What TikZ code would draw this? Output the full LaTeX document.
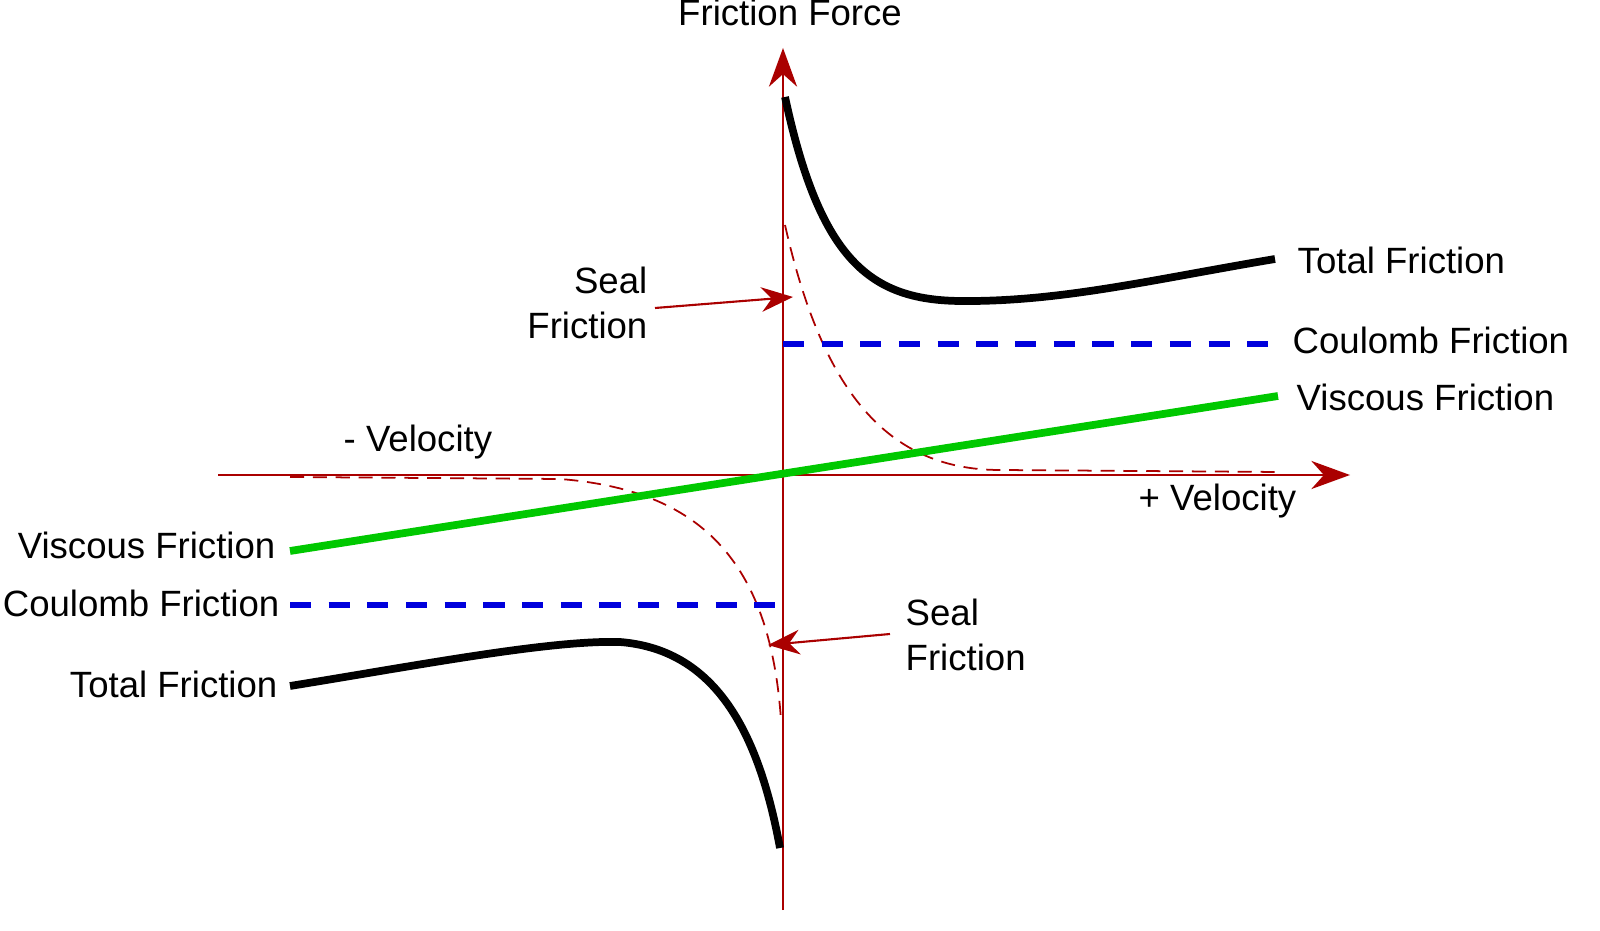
\documentclass[tikz,border=0pt]{standalone}
\usepackage{fontspec}
\setmainfont{Liberation Sans}
\usetikzlibrary{arrows.meta}
\definecolor{axred}{RGB}{170,0,0}
\definecolor{cblue}{RGB}{0,0,220}
\definecolor{vgreen}{RGB}{0,200,0}
\tikzset{
 axis/.style={axred,line width=0.6pt,-{Stealth[length=11pt,width=8pt]}},
 total/.style={black,line width=2.2pt},
 coul/.style={cblue,line width=1.8pt,dash pattern=on 6pt off 5pt},
 visc/.style={vgreen,line width=2.2pt},
 seal/.style={axred,line width=0.5pt,dash pattern=on 4pt off 2.5pt},
 lab/.style={font=\fontsize{10.4pt}{13pt}\selectfont,inner sep=0pt},
 pt/.style={axred,line width=0.6pt,-{Stealth[length=9pt,width=7pt]}}
}
\begin{document}
\begin{tikzpicture}[x=0.01cm,y=-0.01cm]
\coordinate (vb) at (783,910); \coordinate (vt) at (783,48);
\coordinate (hl) at (218,475); \coordinate (hr) at (1350,475);
\draw[axis] (vb) -- (vt);
\draw[axis] (hl) -- (hr);
\draw[seal] (785,225) .. controls (820,380) and (880,470) .. (1000,470) -- (1280,472);
\draw[seal] (290,477) -- (560,479) .. controls (700,490) and (770,560) .. (781,720);
\draw[coul] (783,344) -- (1275,344);
\draw[coul] (290,605) -- (783,605);
\draw[visc] (290,551) -- (1278,396);
\draw[total] (785,97) .. controls (820,260) and (870,300) .. (960,301) .. controls (1060,302) and (1150,280) .. (1275,259);
\draw[total] (290,686) .. controls (420,665) and (550,640) .. (620,642) .. controls (720,650) and (760,740) .. (780,848);
\node[lab,anchor=base] (ff) at (790,26) {Friction Force};
\node[lab,anchor=east,align=right] (s1) at (648,303) {Seal\\Friction};
\node[lab,anchor=west,align=left] (s2) at (905,635) {Seal\\Friction};
\coordinate (s1t) at (793,297); \coordinate (s2t) at (768,645);
\draw[pt] (655,308) -- (s1t);
\draw[pt] (890,634) -- (s2t);
\node[lab,anchor=west] (t1) at (1297,260) {Total Friction};
\node[lab,anchor=west] (c1) at (1292,340) {Coulomb Friction};
\node[lab,anchor=west] (v1) at (1296,397) {Viscous Friction};
\node[lab,anchor=west] (mv) at (343,442) {- Velocity};
\node[lab,anchor=west] (pv) at (1138,501) {+ Velocity};
\node[lab,anchor=east] (v2) at (276,545) {Viscous Friction};
\node[lab,anchor=east] (c2) at (280,603) {Coulomb Friction};
\node[lab,anchor=east] (t2) at (278,684) {Total Friction};
\pgfresetboundingbox
\useasboundingbox (0,0) rectangle (1600,931);
\end{tikzpicture}
\end{document}
